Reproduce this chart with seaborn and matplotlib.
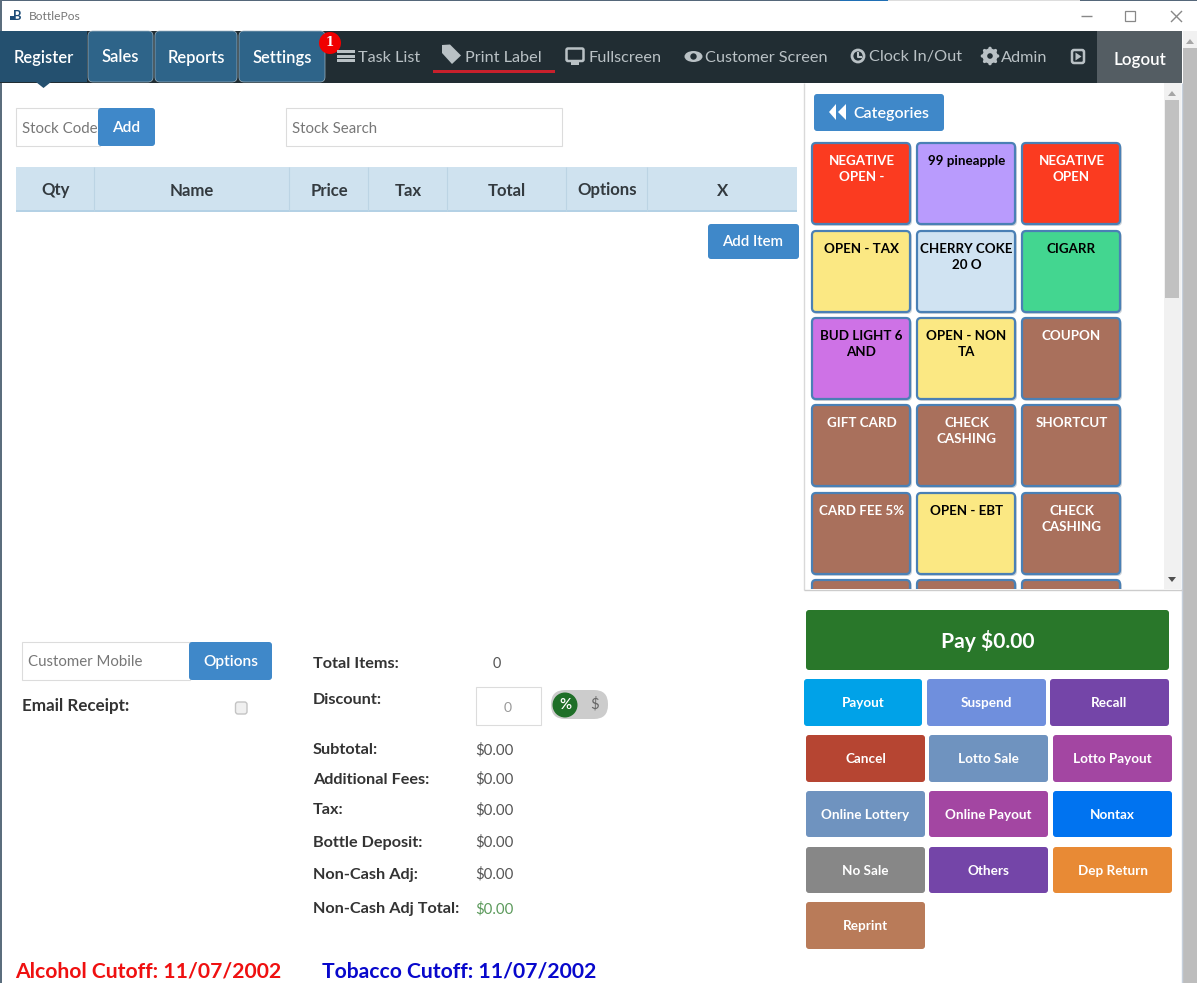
import matplotlib
matplotlib.use("Agg")
import matplotlib.pyplot as plt
import seaborn as sns
from matplotlib.patches import FancyBboxPatch, Rectangle, Circle, Polygon, Ellipse

# ---- content -------------------------------------------------------------
NAV_TABS = ["Register", "Sales", "Reports", "Settings"]
NAV_LINKS = ["Task List", "Print Label", "Fullscreen", "Customer Screen", "Clock In/Out", "Admin"]
TABLE_HEADERS = ["Qty", "Name", "Price", "Tax", "Total", "Options", "X"]
TILE_LABELS = ["NEGATIVE\nOPEN -", "99 pineapple", "NEGATIVE\nOPEN",
               "OPEN - TAX", "CHERRY COKE\n20 O", "CIGARR",
               "BUD LIGHT 6\nAND", "OPEN - NON\nTA", "COUPON",
               "GIFT CARD", "CHECK\nCASHING", "SHORTCUT",
               "CARD FEE 5%", "OPEN - EBT", "CHECK\nCASHING",
               "", "", ""]
TILE_COLORS = ["#fb3b20", "#b99bfd", "#fb3b20",
               "#fbe883", "#d0e3f2", "#43d690",
               "#ce72e6", "#fbe883", "#a9705c",
               "#a9705c", "#a9705c", "#a9705c",
               "#a9705c", "#fbe883", "#a9705c",
               "#a9705c", "#a9705c", "#a9705c"]
TILE_TEXT = ["white", "black", "white",
             "black", "black", "black",
             "black", "black", "white",
             "white", "white", "white",
             "white", "black", "white",
             "white", "white", "white"]
ACTION_LABELS = ["Payout", "Suspend", "Recall",
                 "Cancel", "Lotto Sale", "Lotto Payout",
                 "Online Lottery", "Online Payout", "Nontax",
                 "No Sale", "Others", "Dep Return",
                 "Reprint"]
ACTION_COLORS = ["#00a2e8", "#6f8fdd", "#7445a8",
                 "#b64532", "#6f93bf", "#a346a2",
                 "#6f93bf", "#a346a2", "#0073f0",
                 "#878787", "#7445a8", "#e88a35",
                 "#b97b59"]
SUMMARY_LABELS = ["Subtotal:", "Additional Fees:", "Tax:", "Bottle Deposit:", "Non-Cash Adj:", "Non-Cash Adj Total:"]
SUMMARY_VALUES = ["$0.00", "$0.00", "$0.00", "$0.00", "$0.00", "$0.00"]
TOTAL_ITEMS = "0"
DISCOUNT = "0"
PAY_TEXT = "Pay $0.00"
ALCOHOL = "Alcohol Cutoff: 11/07/2002"
TOBACCO = "Tobacco Cutoff: 11/07/2002"

# ---- setup ---------------------------------------------------------------
sns.set_theme(style="white")
plt.rcParams["font.family"] = ["Lato", "DejaVu Sans"]
fig = plt.figure(figsize=(11.97, 9.83), dpi=100, facecolor="white")
ax = fig.add_axes([0, 0, 1, 1])
ax.set_xlim(0, 1197)
ax.set_ylim(983, 0)
ax.axis("off")
sns.despine(ax=ax, left=True, bottom=True)

_z = [1]
def nz():
    _z[0] += 1
    return _z[0]

def rect(x0, y0, x1, y1, fc, ec="none", lw=0, clip=None):
    p = Rectangle((x0, y0), x1 - x0, y1 - y0, facecolor=fc, edgecolor=ec, linewidth=lw, zorder=nz())
    ax.add_patch(p)
    if clip is not None:
        p.set_clip_path(clip)
    return p

def rbox(x0, y0, x1, y1, fc, r=3, ec="none", lw=0, clip=None, alpha=None):
    p = FancyBboxPatch((x0, y0), x1 - x0, y1 - y0, boxstyle=f"round,pad=0,rounding_size={r}",
                       facecolor=fc, edgecolor=ec, linewidth=lw, zorder=nz(), alpha=alpha)
    ax.add_patch(p)
    if clip is not None:
        p.set_clip_path(clip)
    return p

def T(x, y, s, px=15, color="#333333", weight="normal", ha="left", family=None):
    return ax.text(x, y + 1.5, s, fontsize=px * 0.72, color=color, fontweight=weight, ha=ha, va="center",
                   zorder=nz(), linespacing=1.0, family=family)

def line(xs, ys, color, lw=1.0):
    ax.plot(xs, ys, color=color, lw=lw, zorder=nz(), solid_capstyle="butt")

# ---- window chrome -------------------------------------------------------
rect(0, 0, 1197, 1.2, "#55677a")
rect(840, 0, 888, 1.2, "#1f6fb5")
rect(888, 0, 1080, 1.2, "#dddddd")
rect(0, 0, 1.5, 983, "#5b6d7d")
T(17, 14, "B", 13, "#1f4e79", "bold", "center")
rect(10, 16, 14, 20, "#1f4e79")
T(29, 14.5, "BottlePos", 12, "#777777")
line([1081, 1092], [16, 16], "#888888", 1)
rect(1125, 11, 1135, 21, "none", "#888888", 0.9)
line([1171, 1182], [11, 22], "#888888", 1)
line([1171, 1182], [22, 11], "#888888", 1)

# ---- navigation ----------------------------------------------------------
rect(0, 31, 1182, 83, "#212d33")
tab_edges = [(0, 87), (88, 153), (155, 237), (239, 325)]
tab_fill = ["#24506f", "#2e6489", "#2e6489", "#2e6489"]
for (a, b), lab, c in zip(tab_edges, NAV_TABS, tab_fill):
    if lab == "Register":
        rect(a, 31, b, 82, c)
    else:
        rbox(a, 31, b, 82, c, r=5, ec="#9fb4c2", lw=0.5)
    T((a + b) / 2, 56, lab, 16.5, "white", "semibold", "center")
ax.add_patch(Polygon([[36, 82], [51, 82], [43.5, 88]], closed=True, fc="#24506f", ec="none", zorder=nz()))
ax.add_patch(Circle((330, 43), 11, fc="#f00000", ec="none", zorder=nz()))
T(330, 41.5, "1", 12, "white", "bold", "center", family="DejaVu Serif")

NAV_C = "#b9c1c5"
nav_x = [358, 465, 588, 705, 869, 1001]
for x, lab in zip(nav_x, NAV_LINKS):
    T(x, 56, lab, 16.2, NAV_C)
# icons
for y0 in (50, 54.5, 59):
    rect(337, y0, 355, y0 + 3.4, NAV_C)
ax.add_patch(Polygon([[442, 45], [450, 44.5], [461, 55.5], [452, 64], [442, 53]], closed=True, fc=NAV_C, ec="none", zorder=nz()))
rect(433, 69.5, 555, 72.5, "#c8202c")
rbox(566.5, 48.5, 583.5, 61, "none", r=1.5, ec=NAV_C, lw=1.8)
rect(571, 62, 579, 65, NAV_C)
ax.add_patch(Ellipse((693.5, 56.5), 18, 11, fc=NAV_C, ec="none", zorder=nz()))
ax.add_patch(Circle((693.5, 56.5), 3.2, fc="#212d33", ec="none", zorder=nz()))
ax.add_patch(Circle((858, 56), 6, fc="none", ec=NAV_C, lw=2, zorder=nz()))
line([858, 858, 862], [52, 57, 57], NAV_C, 1.5)
ax.add_patch(Circle((990, 56), 5.2, fc="none", ec=NAV_C, lw=3.4, zorder=nz()))
for dx, dy in [(0, -7.6), (0, 7.6), (-7.6, 0), (7.6, 0), (-5.4, -5.4), (5.4, 5.4), (-5.4, 5.4), (5.4, -5.4)]:
    ax.add_patch(Circle((990 + dx, 56 + dy), 1.7, fc=NAV_C, ec="none", zorder=nz()))
rbox(1072, 50, 1084, 63, "none", r=2, ec=NAV_C, lw=1.8)
ax.add_patch(Polygon([[1075.5, 52.5], [1075.5, 60.5], [1081.5, 56.5]], closed=True, fc=NAV_C, ec="none", zorder=nz()))
rect(1097, 31, 1182, 83, "#545d63")
T(1139.5, 58, "Logout", 17, "white", "semibold", "center")

# ---- outer scrollbar -----------------------------------------------------
rect(1183, 31, 1197, 983, "#bdbdbd")
rect(1183, 31, 1197, 48, "#f1f1f1")
ax.add_patch(Polygon([[1186, 44], [1194, 44], [1190, 39]], closed=True, fc="#a6a6a6", ec="none", zorder=nz()))
line([1181.5, 1181.5], [83, 983], "#c6d0dc", 1)

# ---- stock entry ---------------------------------------------------------
rect(16, 108, 99.5, 145.5, "white", "#dcdcdc", 0.8)
T(22, 127.5, "Stock Code", 15, "#777777")
rbox(98, 108, 155, 146, "#3f88c9", r=3)
T(126.5, 127, "Add", 15.5, "white", "semibold", "center")
rect(286, 108, 561.5, 145.5, "white", "#dcdcdc", 0.8)
T(292, 127.5, "Stock Search", 15, "#777777")

# ---- table header --------------------------------------------------------
rect(16, 167, 797, 210, "#cfe2ef")
rect(16, 210, 797, 212, "#b4d1e5")
edges = [16, 94, 289, 368, 447, 566, 647, 797]
for e in edges[1:-1]:
    line([e, e], [167, 211], "#bcd4e4", 0.8)
for a, b, lab in zip(edges[:-1], edges[1:], TABLE_HEADERS):
    T((a + b) / 2 + 0.5, 189, lab, 16.8, "#333a3f", "bold", "center")
rbox(708, 224, 799, 259, "#3f88c9", r=3)
T(753, 241, "Add Item", 15, "white", "semibold", "center")

# ---- tile panel ----------------------------------------------------------
line([804, 804], [83, 590], "#d9d9d9", 1)
rbox(814, 94, 944, 131, "#3f88c9", r=3)
ax.add_patch(Polygon([[836, 104], [836, 120], [829, 112]], closed=True, fc="white", ec="none", zorder=nz()))
ax.add_patch(Polygon([[846, 104], [846, 120], [838, 112]], closed=True, fc="white", ec="none", zorder=nz()))
T(853, 112.5, "Categories", 16, "white", "semibold")

clip = Rectangle((805, 83), 359, 506, transform=ax.transData)
tile_pal = sns.color_palette(TILE_COLORS)
col_x = [812, 917, 1022]
row_y = [143, 231, 318, 405, 493, 580]
k = 0
for yy in row_y:
    for xx in col_x:
        rbox(xx, yy + 1, xx + 100, yy + 83, "#9aa7b3", r=5, clip=clip, alpha=0.5)
        rbox(xx, yy, xx + 98, yy + 81, tile_pal[k], r=4, ec="#4a80b5", lw=1.6, clip=clip)
        if TILE_LABELS[k]:
            lines = TILE_LABELS[k].split("\n")
            for i, s in enumerate(lines):
                T(xx + 49.5, yy + 16.5 + 16 * i, s, 13.4, TILE_TEXT[k], "bold", "center")
        k += 1

# inner scrollbar
rect(1164, 83, 1181, 589, "#f1f1f1")
rect(1165, 100, 1179, 298, "#c1c1c1")
ax.add_patch(Polygon([[1168, 96], [1176, 96], [1172, 91]], closed=True, fc="#a6a6a6", ec="none", zorder=nz()))
ax.add_patch(Polygon([[1168, 577], [1176, 577], [1172, 582]], closed=True, fc="#505050", ec="none", zorder=nz()))
line([804, 1182], [589.5, 589.5], "#cccccc", 1)

# ---- pay + actions -------------------------------------------------------
rbox(806, 610, 1169, 670, "#29772a", r=3)
T(987.5, 639.5, PAY_TEXT, 21, "white", "bold", "center")
cell_x = [[(804, 922), (927, 1046), (1050, 1169)]] + [[(806, 925), (929, 1048), (1053, 1172)]] * 4
cell_y = [(679, 726), (735, 782), (791, 837), (847, 893), (902, 949)]
act_pal = sns.color_palette(ACTION_COLORS)
k = 0
for cols, (y0, y1) in zip(cell_x, cell_y):
    for (x0, x1) in cols:
        if k >= len(ACTION_LABELS):
            break
        rbox(x0, y0, x1, y1, act_pal[k], r=3)
        T((x0 + x1) / 2, (y0 + y1) / 2 - 0.8, ACTION_LABELS[k], 13.5, "white", "bold", "center")
        k += 1

# ---- customer -------------------------------------------------------------
rect(22, 642, 190, 679.5, "white", "#dcdcdc", 0.8)
T(28, 661, "Customer Mobile", 15, "#777777")
rbox(189, 642, 272, 680, "#3f88c9", r=3)
T(230.5, 660.5, "Options", 15.5, "white", "semibold", "center")
T(22, 704, "Email Receipt:", 17, "#333333", "bold")
rbox(235.5, 702, 247, 714, "#f0f0f0", r=2.5, ec="#c4c4c4", lw=1)

# ---- summary --------------------------------------------------------------
T(313, 662, "Total Items:", 16.3, "#333333", "bold")
T(497, 662, TOTAL_ITEMS, 14.5, "#555555", ha="center")
T(313, 699, "Discount:", 16.3, "#333333", "bold")
rect(476, 687, 540.5, 724.5, "white", "#dcdcdc", 0.8)
T(508, 706.5, DISCOUNT, 14, "#999999", ha="center")
rbox(551, 690, 608, 719, "#cccccc", r=14)
ax.add_patch(Circle((565, 705), 12.5, fc="#1f6f28", ec="none", zorder=nz()))
T(565, 703.5, "%", 15, "white", "semibold", "center")
T(595, 702.5, "$", 15, "#666666", ha="center")

sum_y = [749, 778, 809, 841, 873, 907.5]
for i, (y, lab, val) in enumerate(zip(sum_y, SUMMARY_LABELS, SUMMARY_VALUES)):
    T(313, y, lab, 16.3, "#333333", "bold")
    T(475.5, y, val, 15, "#5c9a5c" if i == len(sum_y) - 1 else "#555555")

# ---- cutoffs --------------------------------------------------------------
T(15.5, 969.5, ALCOHOL, 21.2, "#ef1010", "bold")
T(321.5, 969.5, TOBACCO, 21.1, "#0808cc", "bold")

fig.savefig("out.png", dpi=100, facecolor="white")
